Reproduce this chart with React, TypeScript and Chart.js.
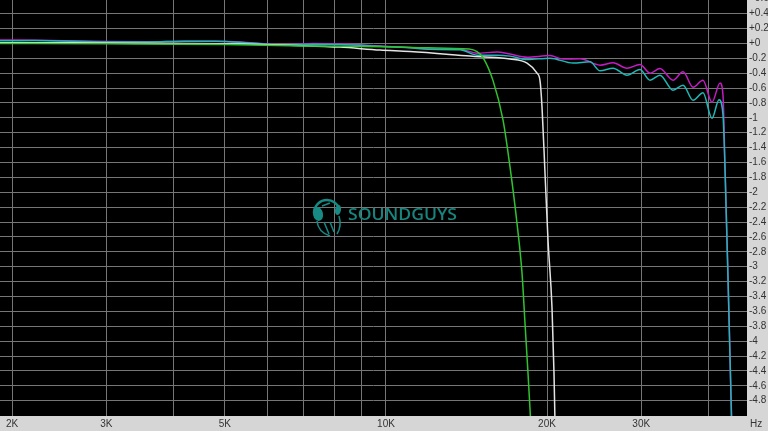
import { useEffect, useRef } from "react";
import { Chart, registerables } from "chart.js";

Chart.register(...registerables);

// Axis definitions
const X_MIN = 1899;
const X_MAX = 47300;
const Y_MIN = -5.006;
const Y_MAX = 0.583;
const X_GRID = [2000, 3000, 4000, 5000, 6000, 7000, 8000, 9000, 10000, 20000, 30000, 40000];
const X_LABELS: Record<number, string> = { 2000: "2K", 3000: "3K", 5000: "5K", 10000: "10K", 20000: "20K", 30000: "30K" };
const Y_TICKS = [0.4, 0.2, 0, -0.2, -0.4, -0.6, -0.8, -1, -1.2, -1.4, -1.6, -1.8, -2, -2.2, -2.4, -2.6, -2.8, -3, -3.2, -3.4, -3.6, -3.8, -4, -4.2, -4.4, -4.6, -4.8];
const Y_TOP_CUT_LABEL = "+0.6";
const X_UNIT = "Hz";
const WATERMARK = "SOUNDGUYS";

// Green series
const GREEN_F = [1899, 3000, 5000, 7000, 10000, 12000, 14300, 14800, 15185, 15854, 16552, 17056, 17578, 17962, 18196, 18432, 18650];
const GREEN_DB = [0.0, -0.005, -0.015, -0.035, -0.045, -0.06, -0.075, -0.11, -0.19, -0.5, -1.03, -1.66, -2.42, -3.09, -3.77, -4.44, -5.1];

// White series
const WHITE_F = [1899, 5000, 7000, 8200, 9748, 11090, 14360, 15000, 17056, 18354, 19160, 19406, 19576, 19830, 20088, 20434, 20612, 20700];
const WHITE_DB = [0.01, -0.005, -0.03, -0.05, -0.09, -0.11, -0.17, -0.18, -0.21, -0.265, -0.4, -0.5, -0.86, -1.75, -2.65, -3.55, -4.44, -5.1];

// Cyan series
const CYAN_F = [1899, 2200, 3050, 3600, 4200, 4800, 5572, 6300, 7300, 8208, 9748, 11090, 12084, 13754, 14798, 16129, 17056, 18354, 20260, 22368, 24066, 25128, 26574, 28220, 29840, 31160, 32520, 34400, 35920, 37500, 39140, 40680, 41940, 42660, 43040, 43600, 44260];
const CYAN_DB = [0.035, 0.04, 0.02, 0.02, 0.03, 0.03, 0.005, -0.02, -0.01, -0.015, -0.04, -0.06, -0.08, -0.085, -0.158, -0.158, -0.171, -0.218, -0.198, -0.265, -0.248, -0.369, -0.333, -0.427, -0.35, -0.494, -0.427, -0.629, -0.562, -0.764, -0.663, -1.006, -0.757, -0.966, -1.706, -3.188, -5.05];

// Magenta series
const MAGENTA_F = [1899, 2070, 2500, 3050, 3600, 4200, 4800, 5572, 6300, 7300, 8208, 9000, 9748, 11090, 12084, 13754, 14798, 16129, 17056, 18354, 20260, 21426, 23052, 25128, 26574, 28220, 29840, 31160, 32520, 34400, 35920, 37500, 39140, 40680, 42120, 42660, 43040, 43600, 44260];
const MAGENTA_DB = [0.045, 0.044, 0.035, 0.025, 0.022, 0.03, 0.03, 0.01, -0.015, 0.0, -0.005, -0.02, -0.035, -0.055, -0.075, -0.077, -0.131, -0.117, -0.144, -0.185, -0.164, -0.211, -0.205, -0.292, -0.261, -0.333, -0.283, -0.4, -0.337, -0.494, -0.382, -0.589, -0.494, -0.791, -0.531, -0.7, -1.706, -3.188, -5.05];

const pts = (f: number[], d: number[]) => f.map((x, i) => ({ x, y: d[i] }));

const fmtY = (v: number) => {
  const r = Math.round(v * 10) / 10;
  if (r > 0) return "+" + r;
  if (r === 0) return "+0";
  return String(r);
};

const PANEL = "#d6d6d6";
const GRID = "#767676";
const TEXT = "#333333";
const FONT = "'Liberation Sans', Arial, sans-serif";

const bgPlugin = {
  id: "bg",
  beforeDraw(chart: any) {
    const { ctx, chartArea: a } = chart;
    ctx.save();
    ctx.fillStyle = PANEL;
    ctx.fillRect(0, 0, chart.width, chart.height);
    ctx.fillStyle = "#000000";
    ctx.fillRect(a.left, a.top, a.right - a.left, a.bottom - a.top);
    ctx.restore();
  },
  beforeDatasetsDraw(chart: any) {
    const { ctx } = chart;
    ctx.save();
    // watermark logo (simplified head with headphones)
    const c = "#178a84";
    ctx.strokeStyle = c;
    ctx.fillStyle = c;
    ctx.lineWidth = 2.5;
    ctx.beginPath();
    ctx.arc(327, 213, 13, Math.PI * 1.0, Math.PI * 1.9);
    ctx.stroke();
    ctx.beginPath();
    ctx.ellipse(318, 214, 5, 7, -0.2, 0, Math.PI * 2);
    ctx.fill();
    ctx.beginPath();
    ctx.ellipse(338, 210, 3, 5, 0.2, 0, Math.PI * 2);
    ctx.fill();
    ctx.lineWidth = 1.5;
    ctx.beginPath();
    ctx.moveTo(317, 221);
    ctx.quadraticCurveTo(318, 232, 330, 236);
    ctx.moveTo(339, 216);
    ctx.quadraticCurveTo(342, 226, 337, 234);
    ctx.moveTo(324, 222);
    ctx.lineTo(329, 234);
    ctx.moveTo(330, 222);
    ctx.lineTo(334, 232);
    ctx.moveTo(322, 206);
    ctx.lineTo(330, 203);
    ctx.stroke();
    // watermark text
    const grad = ctx.createLinearGradient(348, 0, 457, 0);
    grad.addColorStop(0, "#17857e");
    grad.addColorStop(1, "#1a5f86");
    ctx.fillStyle = grad;
    ctx.font = "600 16px 'Open Sans', 'Liberation Sans', sans-serif";
    ctx.textBaseline = "middle";
    ctx.textAlign = "left";
    const w = ctx.measureText(WATERMARK).width;
    ctx.translate(348, 215);
    ctx.scale(109 / w, 1);
    ctx.fillText(WATERMARK, 0, 0);
    ctx.restore();
  },
  afterDraw(chart: any) {
    const { ctx } = chart;
    ctx.save();
    ctx.fillStyle = TEXT;
    ctx.font = "10px " + FONT;
    ctx.textBaseline = "middle";
    ctx.textAlign = "left";
    ctx.fillText(X_UNIT, 750, 424);
    const y06 = chart.scales.y.getPixelForValue(0.6);
    ctx.fillText(Y_TOP_CUT_LABEL, chart.chartArea.right + 2, y06);
    ctx.restore();
  },
};

export default function App() {
  const ref = useRef<HTMLCanvasElement | null>(null);
  useEffect(() => {
    if (!ref.current) return;
    const lineDs = (label: string, data: any[], color: string) => ({
      label,
      data,
      borderColor: color,
      backgroundColor: color,
      borderWidth: 1.5,
      pointRadius: 0,
      fill: false,
      cubicInterpolationMode: "monotone" as const,
    });
    const chart = new Chart(ref.current, {
      type: "line",
      data: {
        datasets: [
          lineDs("green", pts(GREEN_F, GREEN_DB), "#2fc42f"),
          lineDs("white", pts(WHITE_F, WHITE_DB), "#e4e4e4"),
          lineDs("cyan", pts(CYAN_F, CYAN_DB), "#1fb8b8"),
          lineDs("magenta", pts(MAGENTA_F, MAGENTA_DB), "#c21cc2"),
        ],
      },
      options: {
        responsive: false,
        animation: false,
        devicePixelRatio: 1,
        layout: { padding: 0 },
        plugins: { legend: { display: false }, tooltip: { enabled: false } },
        scales: {
          x: {
            type: "logarithmic",
            position: "bottom",
            min: X_MIN,
            max: X_MAX,
            afterBuildTicks: (s: any) => {
              s.ticks = X_GRID.map((v) => ({ value: v }));
            },
            afterFit: (s: any) => {
              s.height = 15;
              s.paddingLeft = 0;
              s.paddingRight = 0;
            },
            grid: { color: GRID, lineWidth: 1, drawTicks: false },
            border: { display: false },
            ticks: {
              autoSkip: false,
              maxRotation: 0,
              padding: 2,
              color: TEXT,
              font: { family: FONT, size: 10 },
              callback: (v: any) => X_LABELS[Number(v)] ?? "",
            },
          },
          y: {
            type: "linear",
            position: "right",
            min: Y_MIN,
            max: Y_MAX,
            afterBuildTicks: (s: any) => {
              s.ticks = Y_TICKS.map((v) => ({ value: v }));
            },
            afterFit: (s: any) => {
              s.width = 21;
              s.paddingTop = 0;
              s.paddingBottom = 0;
            },
            grid: { color: GRID, lineWidth: 1, drawTicks: false },
            border: { display: false },
            ticks: {
              autoSkip: false,
              padding: 2,
              color: TEXT,
              font: { family: FONT, size: 10 },
              callback: (v: any) => fmtY(Number(v)),
            },
          },
        },
      },
      plugins: [bgPlugin],
    });
    return () => chart.destroy();
  }, []);
  return (
    <div style={{ position: "fixed", left: 0, top: 0, width: 768, height: 431, background: PANEL }}>
      <canvas ref={ref} width={768} height={431} style={{ display: "block", width: 768, height: 431 }} />
    </div>
  );
}
